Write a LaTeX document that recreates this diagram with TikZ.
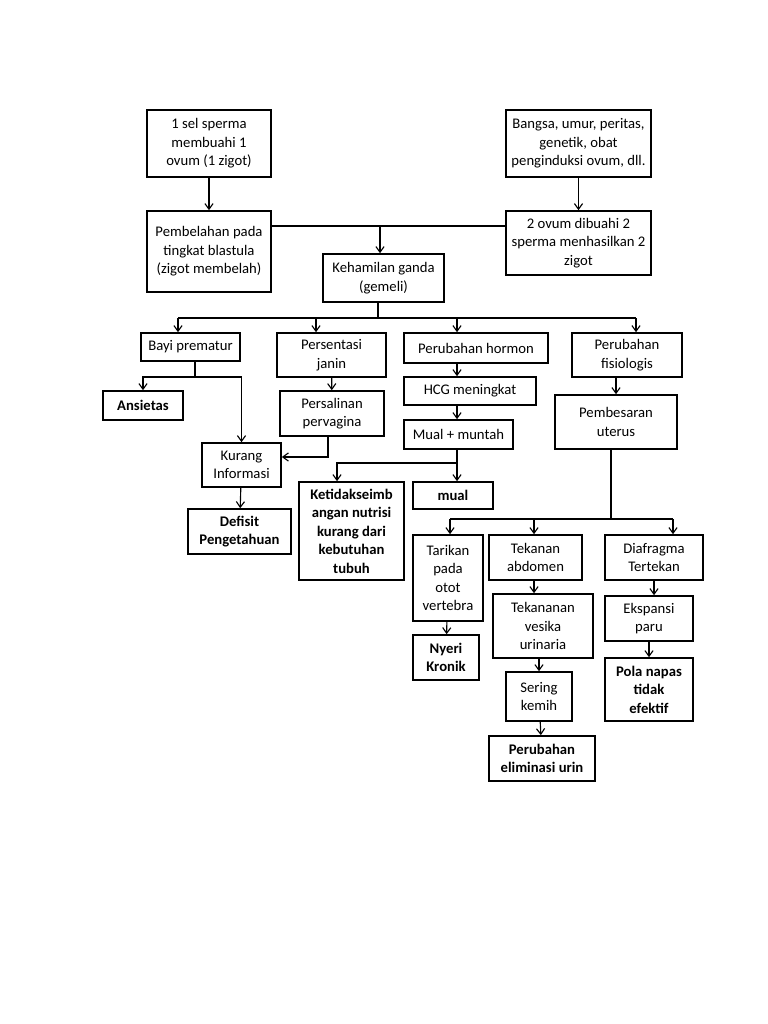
\documentclass[tikz,border=0pt]{standalone}
\usepackage{fontspec}
\setmainfont{Carlito}
\usepackage{tikz}
\usetikzlibrary{positioning,arrows.meta}

\begin{document}
\begin{tikzpicture}[
    x=0.796875pt, y=-0.796875pt,
    box/.style={draw, line width=1.3pt, align=center, inner sep=2pt,
                font=\fontsize{11.7}{14.7}\selectfont},
    leaf/.style={box, font=\bfseries\fontsize{11.7}{14.7}\selectfont},
    sz/.style 2 args={minimum width=#1*0.796875pt, minimum height=#2*0.796875pt},
    line/.style={line width=0.9pt},
    arr/.style={line, -{Straight Barb[length=4.5pt,width=6.5pt]}},
]
\useasboundingbox (0,0) rectangle (768,1024);

% causes
\node[box, sz={124}{67}] (sperma) at (209,143.5)
    {1 sel sperma\\membuahi 1\\ovum (1 zigot)};
\node[box, sz={145}{67}] (bangsa) at (578.5,143.5)
    {Bangsa, umur, peritas,\\genetik, obat\\penginduksi ovum, dll.};
\node[box, sz={124}{81}] (belah) at (209,251.5)
    {Pembelahan pada\\tingkat blastula\\(zigot membelah)};
\node[box, sz={145}{64}] (ovum) at (578.5,243)
    {2 ovum dibuahi 2\\sperma menhasilkan 2\\zigot};
\node[box, sz={121}{48}] (gemeli) at (383.5,278)
    {Kehamilan ganda\\(gemeli)};

\draw[arr] (sperma) -- (belah);
\draw[arr] (bangsa) -- (ovum);
\coordinate (j1) at (380,226);
\draw[line] (belah.east |- j1) -- (ovum.west |- j1);
\draw[arr] (j1) -- (j1 |- gemeli.north);

% second row
\node[box, sz={99}{28}] (bayi) at (190.5,347) {Bayi prematur};
\node[box, sz={109}{44}] (janin) at (331.5,355) {Persentasi\\janin};
\node[box, sz={144}{30}] (hormon) at (476,348) {Perubahan hormon};
\node[box, sz={110}{44}] (fisio) at (627,355) {Perubahan\\fisiologis};

\coordinate (j2) at (378,318);
\coordinate (r1) at (178,318);
\coordinate (r2) at (316,318);
\coordinate (r3) at (457,318);
\coordinate (r4) at (636,318);
\draw[line] (j2 |- gemeli.south) -- (j2);
\draw[line] (r1) -- (r4);
\foreach \r/\n in {r1/bayi, r2/janin, r3/hormon, r4/fisio}
    \draw[arr] (\r) -- (\r |- \n.north);

% bayi prematur / persentasi janin
\node[leaf, sz={80}{29}] (ansietas) at (143,405.5) {Ansietas};
\node[box, sz={79}{44}] (kurang) at (241.5,465) {Kurang\\Informasi};
\node[box, sz={104}{45}] (salin) at (332,413.5) {Persalinan\\pervagina};
\node[leaf, sz={103}{45}] (defisit) at (239.5,531.5) {Defisit\\Pengetahuan};

\coordinate (j3) at (195,377);
\draw[line] (j3 |- bayi.south) -- (j3);
\draw[arr] (j3) -| (ansietas);
\draw[arr] (j3) -| (kurang);
\draw[arr] (janin) -- (salin);
\coordinate (j4) at (328,457);
\draw[arr] (j4 |- salin.south) -- (j4) -- (j4 -| kurang.east);
\draw[arr] (kurang) -- (defisit);

% perubahan hormon
\node[box, sz={132}{28}] (hcg) at (470,391) {HCG meningkat};
\node[box, sz={109}{29}] (muntah) at (458.5,434.5) {Mual + muntah};
\node[leaf, sz={105}{98}] (nutrisi) at (351.5,531)
    {Ketidakseimb\\angan nutrisi\\kurang dari\\kebutuhan\\tubuh};
\node[leaf, sz={80}{27}] (mual) at (453,495.5) {mual};

\draw[arr] (r3 |- hormon.south) -- (r3 |- hcg.north);
\draw[arr] (r3 |- hcg.south) -- (r3 |- muntah.north);
\draw[arr] (r3 |- muntah.south) -- (r3 |- mual.north);
\coordinate (j5) at (337,463);
\draw[arr] (r3 |- j5) -- (j5) -- (j5 |- nutrisi.north);

% perubahan fisiologis
\node[box, sz={122}{54}] (uterus) at (616,422) {Pembesaran\\uterus};
\node[box, sz={70}{86}] (tarikan) at (448,578) {Tarikan\\pada\\otot\\vertebra};
\node[box, sz={93}{45}] (tekanan) at (535.5,557.5) {Tekanan\\abdomen};
\node[box, sz={98}{45}] (diafragma) at (654,557.5) {Diafragma\\Tertekan};

\draw[arr] (uterus.north |- fisio.south) -- (uterus.north);
\coordinate (j6) at (611,519);
\coordinate (t1) at (450,519);
\coordinate (t2) at (534,519);
\coordinate (t3) at (673,519);
\draw[line] (j6 |- uterus.south) -- (j6);
\draw[line] (t1) -- (t3);
\foreach \t/\n in {t1/tarikan, t2/tekanan, t3/diafragma}
    \draw[arr] (\t) -- (\t |- \n.north);

\node[leaf, sz={66}{45}] (nyeri) at (446,657.5) {Nyeri\\Kronik};
\node[box, sz={100}{64}] (vesika) at (543,626) {Tekananan\\vesika\\urinaria};
\node[box, sz={66}{49}] (kemih) at (539,696.5) {Sering\\kemih};
\node[leaf, sz={106}{45}] (urin) at (542,758.5) {Perubahan\\eliminasi urin};
\node[box, sz={88}{45}] (paru) at (649,618.5) {Ekspansi\\paru};
\node[leaf, sz={88}{63}] (napas) at (649,689.5) {Pola napas\\tidak\\efektif};

\draw[arr] (tarikan) -- (nyeri);
\draw[arr] (t2 |- tekanan.south) -- (t2 |- vesika.north);
\draw[arr] (kemih.north |- vesika.south) -- (kemih.north);
\draw[arr] (kemih) -- (urin);
\draw[arr] (diafragma.south) -- (diafragma.south |- paru.north);
\draw[arr] (paru) -- (napas);
\end{tikzpicture}
\end{document}
